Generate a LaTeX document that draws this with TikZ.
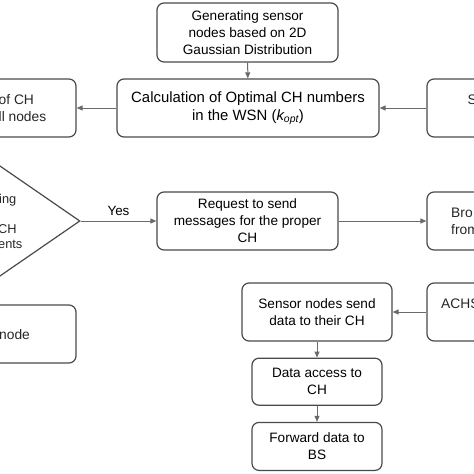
\documentclass[tikz,border=0pt]{standalone}
\usepackage{fontspec}
\setmainfont{Liberation Sans}
\usetikzlibrary{arrows.meta,positioning,shapes.geometric}
\definecolor{boxline}{HTML}{4A4A4A}
\definecolor{arrline}{HTML}{6A6A6A}
\tikzset{
stepbox/.style={
  rectangle,
  rounded corners=7pt,
  draw=boxline,
  line width=1.2pt,
  align=center,
  inner sep=0pt,
  font=\fontsize{13.6}{17}\selectfont
  },
fragtext/.style={
  inner sep=0pt,
  align=left,
  text=black!85,
  font=\fontsize{13.8}{17.4}\selectfont
  },
flow/.style={
  draw=arrline,
  line width=1pt,
  -{Triangle[length=6pt,width=5pt]}
  }
}

\begin{document}
\begin{tikzpicture}[x=1pt,y=-1pt]
\useasboundingbox (0,0) rectangle (474,474);
\clip (0,0) rectangle (474,474);

\node[stepbox, minimum width=181pt, minimum height=59pt] at (247.5,32.5)
(gen) {Generating sensor\\nodes based on 2D\\Gaussian Distribution};
\node[stepbox, minimum width=262pt, minimum height=58pt,
  font=\fontsize{14.9}{18}\selectfont] at (248,108)
(calc) {Calculation of Optimal CH numbers\\in the WSN ({\itshape k}\textsubscript{\itshape opt})};
\node[stepbox, minimum width=180pt, minimum height=58pt] at (-14,108) (select) {};
\node[stepbox, minimum width=180pt, minimum height=58pt] at (517,108) (setup) {};

\node[fragtext, anchor=west] at (-1.5,108) (select-txt) {of CH\\ll nodes};
\node[fragtext, anchor=west] at (467.5,99.5) (setup-txt) {S};

\node[diamond, draw=boxline, line width=1.2pt, inner sep=0pt,
  minimum width=290pt, minimum height=200pt] at (-65,221) (cond) {};
\node[fragtext, anchor=west, font=\fontsize{12.8}{15}\selectfont] at (-1,200) (cond-txt1) {ing};
\node[fragtext, anchor=west, font=\fontsize{12.8}{15}\selectfont] at (-2,237) (cond-txt2) {CH\\ents};

\node[stepbox, minimum width=181pt, minimum height=58pt] at (247.5,221)
(request) {Request to send\\messages for the proper\\CH};
\node[stepbox, minimum width=180pt, minimum height=58pt] at (517,221) (bcast) {};
\node[fragtext, anchor=west] at (451,221.5) (bcast-txt) {Bro\\from};

\node[stepbox, minimum width=180pt, minimum height=58pt] at (-14,334) (member) {};
\node[fragtext, anchor=west] at (-1,335) (member-txt) {node};

\node[stepbox, minimum width=150pt, minimum height=58pt] at (317,312)
(sensor) {Sensor nodes send\\data to their CH};
\node[stepbox, minimum width=180pt, minimum height=58pt] at (517,312) (achs) {};
\node[fragtext, anchor=west] at (441,304) (achs-txt) {ACHS};

\node[stepbox, minimum width=130pt, minimum height=47pt, below=16pt of sensor]
(access) {Data access to\\CH};
\node[stepbox, minimum width=130pt, minimum height=48pt, below=16pt of access]
(forward) {Forward data to\\BS};

\draw[flow] (gen) -- (calc);
\draw[flow] (calc) -- (select);
\draw[flow] (setup) -- (calc);
\draw[flow] (cond.east) -- node[above=4.5pt, inner sep=0pt,
  font=\fontsize{13.4}{16}\selectfont] (yes) {Yes} (request.west);
\draw[flow] (request) -- (bcast);
\draw[flow] (achs) -- (sensor);
\draw[flow] (sensor) -- (access);
\draw[flow] (access) -- (forward);

\end{tikzpicture}
\end{document}
